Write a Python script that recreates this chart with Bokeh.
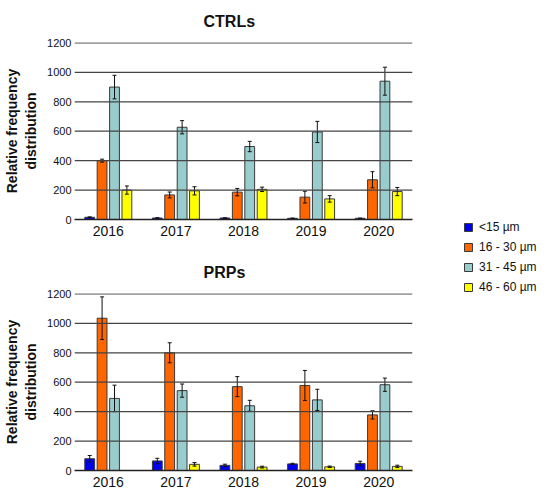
from bokeh.plotting import figure
from bokeh.models import (ColumnDataSource, FactorRange, Range1d, FixedTicker, Legend,
                          LegendItem, Span)
from bokeh.transform import dodge
from bokeh.layouts import row, column
from bokeh.embed import file_html
from bokeh.resources import INLINE

years = ["2016", "2017", "2018", "2019", "2020"]
series_labels = ["<15 µm", "16 - 30 µm", "31 - 45 µm", "46 - 60 µm"]
colors = ["#0000f0", "#ff6600", "#99cccc", "#ffff00"]
y_ticks = [0, 200, 400, 600, 800, 1000, 1200]

# CTRLs
ctrl_lt15 = [15, 10, 10, 8, 8]
ctrl_lt15_err = [3, 2, 2, 2, 2]
ctrl_16_30 = [400, 167, 186, 152, 270]
ctrl_16_30_err = [10, 20, 25, 40, 55]
ctrl_31_45 = [900, 627, 496, 595, 940]
ctrl_31_45_err = [80, 45, 35, 72, 95]
ctrl_46_60 = [200, 195, 205, 140, 190]
ctrl_46_60_err = [28, 28, 15, 22, 28]

# PRPs
prp_lt15 = [80, 65, 35, 45, 48]
prp_lt15_err = [22, 18, 8, 4, 15]
prp_16_30 = [1035, 800, 570, 578, 378]
prp_16_30_err = [145, 68, 68, 102, 28]
prp_31_45 = [490, 543, 440, 480, 583]
prp_31_45_err = [90, 45, 37, 72, 45]
prp_46_60 = [0, 42, 23, 25, 28]
prp_46_60_err = [0, 12, 6, 5, 8]

offsets = [-0.275, -0.092, 0.092, 0.275]
bar_w = 0.145
FONT = "Liberation Sans"


def make_panel(title, values, errors, height, border_top, border_bottom):
    p = figure(x_range=FactorRange(*years), y_range=Range1d(0, 1203),
               width=415, height=height, output_backend="svg", toolbar_location=None,
               min_border_left=70, min_border_right=3, min_border_top=border_top,
               min_border_bottom=border_bottom)
    p.title.text = title
    p.title.align = "left"
    p.title.vertical_align = "top"
    p.title.offset = 129
    p.title.standoff = 21
    p.title.text_font = FONT
    p.title.text_font_size = "16px"
    p.title.text_font_style = "bold"
    p.title.text_color = "#111111"

    # horizontal rules at each tick
    for t in y_ticks[1:]:
        p.add_layout(Span(location=t, dimension="width", line_color="#454545", line_width=1.2))

    for vals, errs, off, col in zip(values, errors, offsets, colors):
        lo = [max(v - e, 0) for v, e in zip(vals, errs)]
        hi = [v + e for v, e in zip(vals, errs)]
        src = ColumnDataSource(data=dict(year=years, val=vals, lo=lo, hi=hi))
        x = dodge("year", off, range=p.x_range)
        p.vbar(x=x, top="val", width=bar_w, source=src, fill_color=col,
               line_color="#3a3a3a", line_width=1)
        p.segment(x0=x, y0="lo", x1=x, y1="hi", source=src, line_color="#111111", line_width=1)
        p.scatter(x=x, y="hi", marker="dash", size=4, source=src, line_color="#111111")
        p.scatter(x=x, y="lo", marker="dash", size=4, source=src, line_color="#111111")

    p.outline_line_color = None
    p.grid.grid_line_color = None
    p.yaxis.ticker = FixedTicker(ticks=y_ticks)
    p.yaxis.axis_line_color = None
    p.yaxis.major_tick_line_color = None
    p.yaxis.minor_tick_line_color = None
    p.yaxis.major_tick_out = 0
    p.yaxis.major_tick_in = 0
    p.yaxis.major_label_standoff = 3
    p.yaxis.major_label_text_font = FONT
    p.yaxis.major_label_text_font_size = "11px"
    p.yaxis.major_label_text_color = "#111111"
    p.yaxis.axis_label = "Relative frequency\ndistribution"
    p.yaxis.axis_label_text_font = FONT
    p.yaxis.axis_label_text_font_size = "14px"
    p.yaxis.axis_label_text_font_style = "bold"
    p.yaxis.axis_label_text_color = "#111111"
    p.yaxis.axis_label_standoff = 5
    p.xaxis.axis_line_color = "#222222"
    p.xaxis.axis_line_width = 1.5
    p.xaxis.major_tick_line_color = None
    p.xaxis.major_tick_out = 0
    p.xaxis.major_tick_in = 0
    p.xaxis.major_label_standoff = 6
    p.xaxis.major_label_text_font = FONT
    p.xaxis.major_label_text_font_size = "14px"
    p.xaxis.major_label_text_color = "#111111"
    return p


p1 = make_panel("CTRLs", [ctrl_lt15, ctrl_16_30, ctrl_31_45, ctrl_46_60],
                [ctrl_lt15_err, ctrl_16_30_err, ctrl_31_45_err, ctrl_46_60_err],
                250, 42, 31)
p2 = make_panel("PRPs", [prp_lt15, prp_16_30, prp_31_45, prp_46_60],
                [prp_lt15_err, prp_16_30_err, prp_31_45_err, prp_46_60_err],
                242, 43, 22)

# legend panel on the right
nan = float("nan")
pl = figure(width=127, height=492, output_backend="svg", toolbar_location=None,
            min_border=0)
pl.axis.visible = False
pl.grid.visible = False
pl.outline_line_color = None
items = []
for lab, col in zip(series_labels, colors):
    r = pl.quad(left=[nan], right=[nan], top=[nan], bottom=[nan], fill_color=col,
                line_color="#3a3a3a")
    items.append(LegendItem(label=lab, renderers=[r]))
leg = Legend(items=items, location=(48, 198), border_line_color=None,
             background_fill_alpha=0, padding=0, spacing=6, margin=0,
             glyph_width=10, glyph_height=10, label_height=10, label_standoff=6,
             label_text_font=FONT, label_text_font_size="12px",
             label_text_color="#111111")
pl.add_layout(leg)

layout = row(column(p1, p2), pl)
open("out.html", "w").write(file_html(layout, INLINE))
